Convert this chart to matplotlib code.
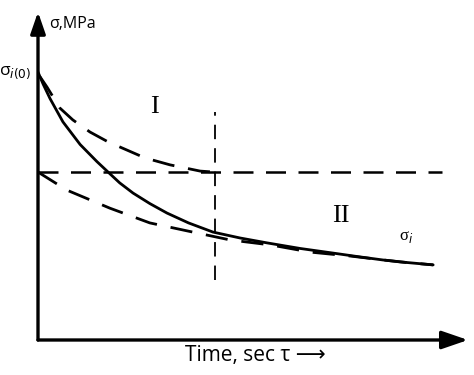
import matplotlib
matplotlib.use("Agg")
import matplotlib.pyplot as plt

# stress relaxation sketch (arbitrary units)
solid_t = [0.0, 0.12, 0.28, 0.58, 0.98, 1.37, 1.63, 1.9, 2.21, 2.6, 3.0, 3.5, 4.07, 4.7, 5.33, 6.1, 6.86, 7.45, 8.02, 8.6, 9.19]
solid_s = [81.7, 78.0, 73.6, 66.5, 59.6, 54.4, 51.2, 47.9, 44.8, 41.6, 38.7, 35.7, 32.9, 31.1, 29.6, 27.9, 26.5, 25.4, 24.4, 23.6, 22.9]

upper_t = [0.05, 0.21, 0.51, 0.81, 1.21, 1.63, 2.07, 2.49, 3.07, 3.77, 4.09]
upper_s = [80.2, 77.1, 70.7, 67.1, 63.4, 60.4, 57.9, 55.5, 53.4, 51.5, 51.2]

lower_t = [0.0, 0.67, 1.67, 2.60, 3.60, 4.47, 5.40, 6.33, 7.26, 8.42, 9.19]
lower_s = [51.2, 45.7, 40.2, 35.7, 32.9, 30.5, 29.0, 26.8, 25.6, 23.8, 22.9]

level_s = 51.2
level_t_end = 9.4
split_t = 4.12
split_s = [18.3, 69.5]

fig = plt.figure(figsize=(4.74, 3.75), dpi=100)
ax = fig.add_axes([38 / 474, 35 / 375, 430 / 474, 328 / 375])
ax.set_xlim(0, 10)
ax.set_ylim(0, 100)
ax.axis("off")

# axes drawn as arrows
ax.annotate("", xy=(10, 0), xytext=(0, 0),
            arrowprops=dict(arrowstyle="-|>,head_length=1.6,head_width=0.55",
                            color="black", lw=2.4, shrinkA=0, shrinkB=0),
            annotation_clip=False)
ax.annotate("", xy=(0, 100), xytext=(0, 0),
            arrowprops=dict(arrowstyle="-|>,head_length=1.3,head_width=0.45",
                            color="black", lw=2.4, shrinkA=0, shrinkB=0),
            annotation_clip=False)

ax.plot(solid_t, solid_s, color="black", lw=2.0, solid_capstyle="round")
ax.plot(upper_t, upper_s, color="black", lw=2.0, dashes=(8, 5))
ax.plot(lower_t, lower_s, color="black", lw=2.0, dashes=(8, 5))
ax.plot([0, level_t_end], [level_s, level_s], color="black", lw=1.8, dashes=(8, 5))
ax.plot([split_t, split_t], split_s, color="black", lw=1.3, dashes=(8, 5))

sans = ["Open Sans", "DejaVu Sans"]
ax.text(0.25, 96.3, "σ,MPa", fontsize=11.5, family=sans, va="center", ha="left")
ax.text(-0.9, 81.5, r"σ$_{\mathit{i(0)}}$", fontsize=12.5, family=sans, va="center", ha="left")
ax.text(2.7, 71, "I", fontsize=19, family="Liberation Serif", va="center", ha="center")
ax.text(7.05, 37.8, "II", fontsize=19, family="Liberation Serif", va="center", ha="center")
ax.text(8.4, 31.5, r"σ$_{\mathit{i}}$", fontsize=12, family="Liberation Serif", va="center", ha="left")
ax.text(3.42, -4.8, "Time, sec τ ⟶", fontsize=15, family=sans, va="center", ha="left")

fig.savefig("out.png", dpi=100)
